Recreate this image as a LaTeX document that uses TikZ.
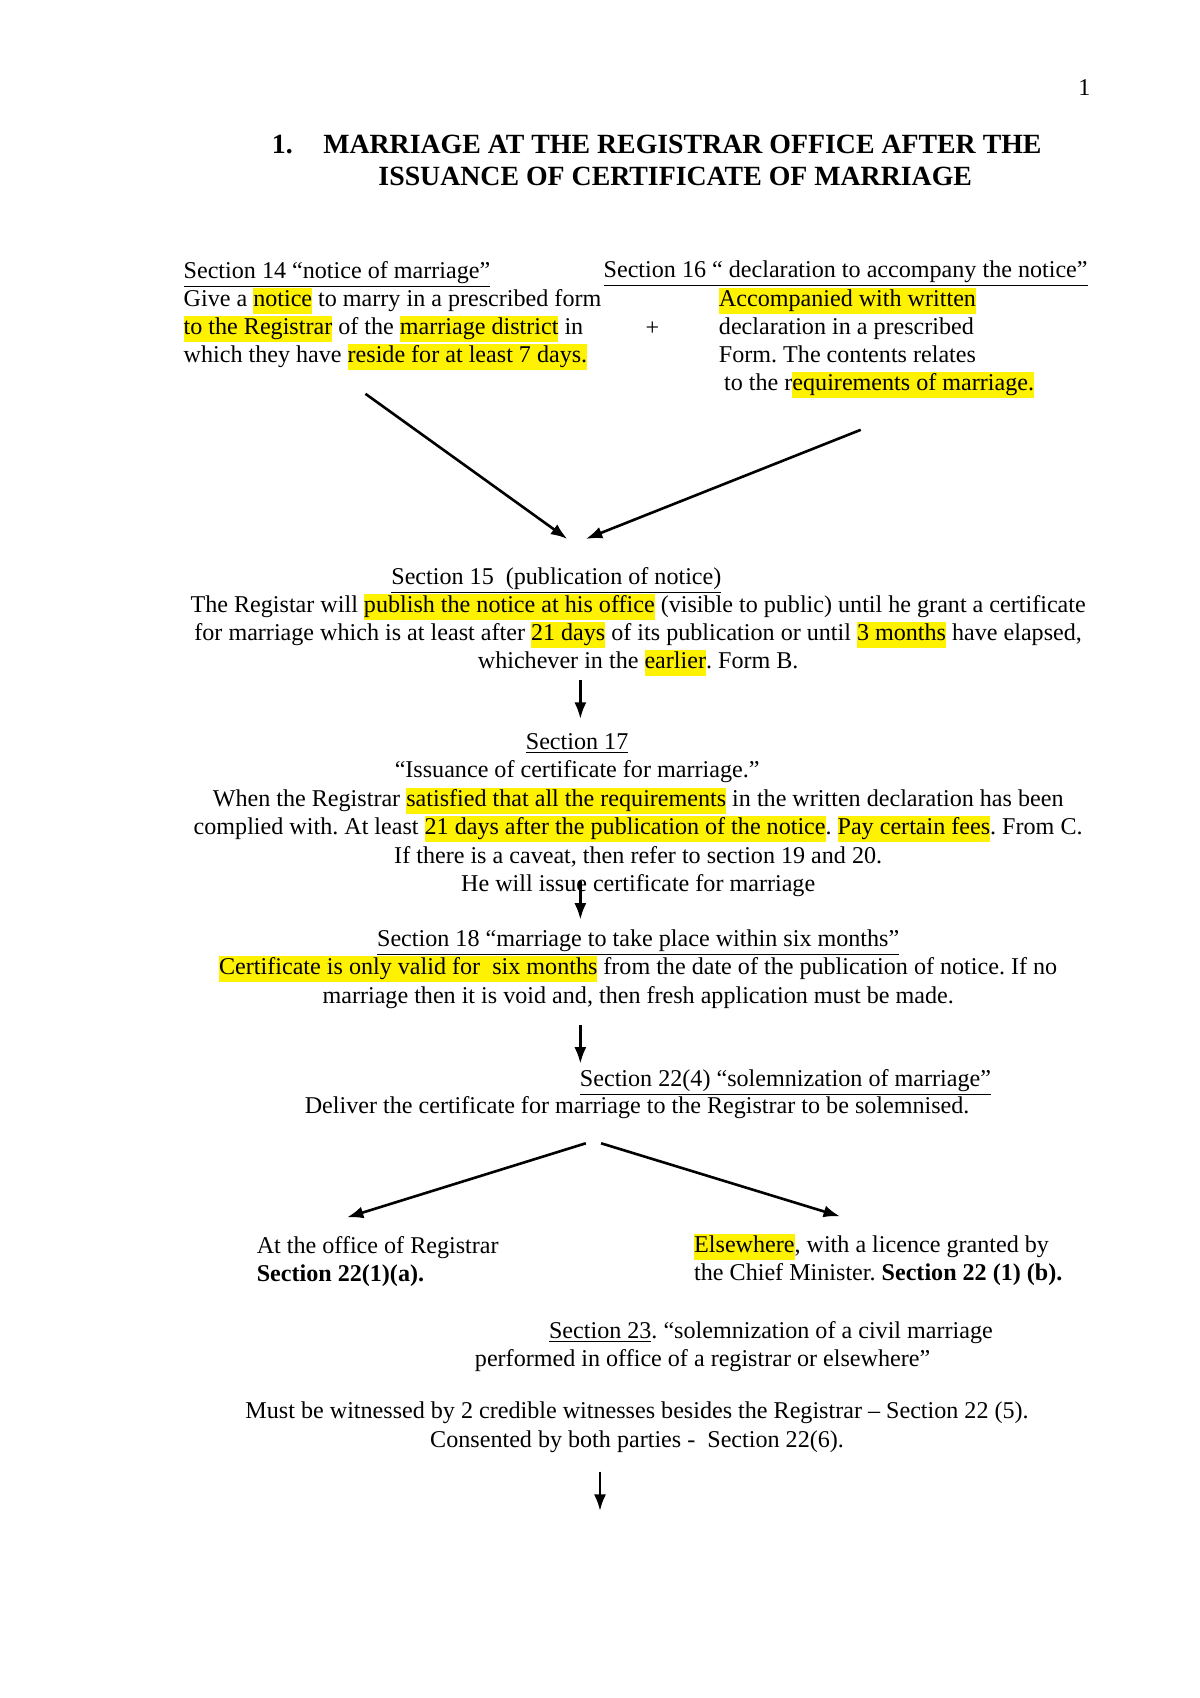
\documentclass[tikz,border=0pt]{standalone}
\usepackage{fontspec}
\setmainfont{Liberation Serif}
\usepackage{tikz}
\usetikzlibrary{shapes,arrows,arrows.meta}
\frenchspacing
\newcommand{\hilite}[1]{{\setlength{\fboxsep}{0pt}\colorbox{yellow}{\rule[-3.7pt]{0pt}{12.9pt}#1}}}
\newcommand{\ulined}[1]{\setbox0\hbox{\underline{#1}}\dp0=0pt\box0}
\tikzstyle{para} = [inner sep=0pt, font=\fontsize{12}{14.07}\selectfont, align=left, anchor=north west]
\tikzstyle{parac} = [para, align=center, anchor=north]
\tikzstyle{titleline} = [inner sep=0pt, font=\fontsize{13.85}{16}\selectfont\bfseries]
\tikzstyle{line} = [draw, -{Latex[length=8.2pt,width=6pt]}, line width=1.3pt]

\begin{document}
\begin{tikzpicture}[x=0.019091cm, y=-0.019091cm]
    \useasboundingbox (0,0) rectangle (1100,1556.5);
    % Place nodes
    \node [para, anchor=center] (page) at (994,80) {1};
    \node [titleline] (title) at (602,132) {1.\hspace{15.2pt}MARRIAGE AT THE REGISTRAR OFFICE AFTER THE};
    \node [titleline] (title2) at (619,162) {ISSUANCE OF CERTIFICATE OF MARRIAGE};
    \node [para] (s14) at (168,239) {\ulined{Section 14 “notice of marriage”}\\ Give a \hilite{notice} to marry in a prescribed form\\ \hilite{to the Registrar} of the \hilite{marriage district} in\\ which they have \hilite{reside for at least 7 days.}};
    \node [para, anchor=center] (plus) at (598,301) {+};
    \node [para] (s16) at (553,239) {\ulined{Section 16 “ declaration to accompany the notice”}\\ \hspace*{57.4pt}\hilite{Accompanied with written}\\ \hspace*{57.4pt}declaration in a prescribed\\ \hspace*{57.4pt}Form. The contents relates\\ \hspace*{60pt}to the r\hilite{equirements of marriage.}};
    \node [para, anchor=north] (s15h) at (510,520) {\ulined{Section 15\ \ (publication of notice)}};
    \node [parac] (s15) at (585,544) {The Registar will \hilite{publish the notice at his office} (visible to public) until he grant a certificate\\ for marriage which is at least after \hilite{21 days} of its publication or until \hilite{3 months} have elapsed,\\ whichever in the \hilite{earlier}. Form B.};
    \node [parac] (s17h) at (529,672) {\ulined{Section 17}\\ “Issuance of certificate for marriage.”};
    \node [parac] (s17) at (585,722) {When the Registrar \hilite{satisfied that all the requirements} in the written declaration has been\\ complied with. At least \hilite{21 days after the publication of the notice}. \hilite{Pay certain fees}. From C.\\ If there is a caveat, then refer to section 19 and 20.\\ He will issue certificate for marriage};
    \node [parac] (s18) at (585,852) {\ulined{Section 18 “marriage to take place within six months”}\\ \hilite{Certificate is only valid for\ \ six months} from the date of the publication of notice. If no\\ marriage then it is void and, then fresh application must be made.};
    \node [para, anchor=north] (s22h) at (720,980) {\ulined{Section 22(4) “solemnization of marriage”}};
    \node [para, anchor=north] (s22) at (584,1005) {Deliver the certificate for marriage to the Registrar to be solemnised.};
    \node [para] (s22a) at (235,1133) {At the office of Registrar\\ \textbf{Section 22(1)(a).}};
    \node [para] (s22b) at (636,1131) {\hilite{Elsewhere}, with a licence granted by\\ the Chief Minister. \textbf{Section 22 (1) (b).}};
    \node [para] (s23) at (435,1211) {\hspace*{36.9pt}\ulined{Section 23}. “solemnization of a civil marriage\\ performed in office of a registrar or elsewhere”};
    \node [parac] (s225) at (584,1285) {Must be witnessed by 2 credible witnesses besides the Registrar – Section 22 (5).\\ Consented by both parties -\ \ Section 22(6).};
    % arrow ends
    \coordinate (t14) at (335,361);
    \coordinate (h14) at (520,494);
    \coordinate (t16) at (789,394);
    \coordinate (h16) at (537,494);
    \coordinate (t15) at (532,623);
    \coordinate (h15) at (532,659);
    \coordinate (t17) at (532,808);
    \coordinate (h17) at (532,843);
    \coordinate (t18) at (532,940);
    \coordinate (h18) at (532,975);
    \coordinate (t22a) at (537,1048);
    \coordinate (h22a) at (318,1116);
    \coordinate (t22b) at (551,1048);
    \coordinate (h22b) at (770,1115);
    \coordinate (t225) at (550,1349);
    \coordinate (h225) at (550,1385);
    % Draw edges
    \path [line] (t14) -- (h14);
    \path [line] (t16) -- (h16);
    \path [line] (t15) -- (h15);
    \path [line] (t17) -- (h17);
    \path [line] (t18) -- (h18);
    \path [line] (t22a) -- (h22a);
    \path [line] (t22b) -- (h22b);
    \path [line] (t225) -- (h225);
\end{tikzpicture}
\end{document}
